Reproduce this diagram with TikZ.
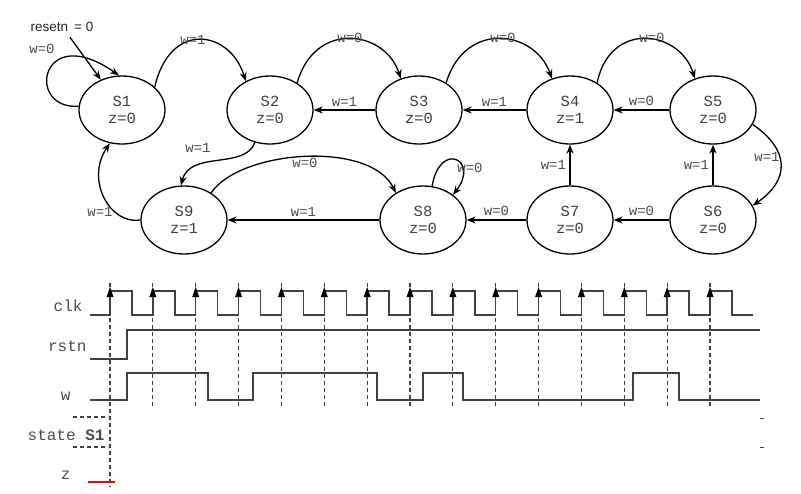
\documentclass[tikz,border=0pt]{standalone}
\usepackage{fontspec}
\setmonofont{Liberation Mono}
\setsansfont{Liberation Sans}
\usetikzlibrary{shapes.geometric,arrows.meta}
\begin{document}
\begin{tikzpicture}[x=1pt,y=-1pt,
  st/.style={ellipse,draw,line width=1.3pt,minimum width=86pt,minimum height=68pt,inner sep=0pt,align=center,font=\ttfamily\fontsize{15.5}{17}\selectfont,text=black!75},
  ed/.style={line width=1.3pt,-{Stealth[length=9pt,width=7pt]}},
  lb/.style={font=\ttfamily\fontsize{14}{15}\selectfont,text=black!70},
  wl/.style={font=\ttfamily\fontsize{16}{17}\selectfont,text=black!70,anchor=east},
  wave/.style={line width=1.4pt,black!75},
  grid/.style={line width=1.2pt,dash pattern=on 4pt off 3pt,black!75}]
\useasboundingbox (0,0) rectangle (801,493);
\node[st] (S1) at (122,110) {S1\\z=0};
\node[st] (S2) at (270,110) {S2\\z=0};
\node[st] (S3) at (419,110) {S3\\z=0};
\node[st] (S4) at (570,110) {S4\\z=1};
\node[st] (S5) at (713,110) {S5\\z=0};
\node[st] (S9) at (184,220) {S9\\z=1};
\node[st] (S8) at (423,220) {S8\\z=0};
\node[st] (S7) at (570,220) {S7\\z=0};
\node[st] (S6) at (713,220) {S6\\z=0};
% reset
\node[font=\sffamily\fontsize{13.5}{14}\selectfont,text=black!85] (rs) at (62,27) {resetn\, = 0};
\draw[ed] (rs.south) ++(8,2) coordinate (r0) (r0) -- (S1.125);
% self loops
\draw[ed] (S1.175) .. controls (25,110) and (40,20) .. (S1.95);
\node[lb] at (42,49) {w=0};
\draw[ed] (S8.75) .. controls (440,140) and (480,160) .. (S8.40);
\node[lb] at (470,168) {w=0};
% arcs top
\draw[ed] (S1.35) .. controls (170,20) and (230,30) .. (S2.130);
\node[lb] at (193,40) {w=1};
\draw[ed] (S2.45) .. controls (315,20) and (385,30) .. (S3.120);
\node[lb] at (350,38) {w=0};
\draw[ed] (S3.45) .. controls (465,20) and (535,30) .. (S4.120);
\node[lb] at (503,38) {w=0};
\draw[ed] (S4.45) .. controls (610,20) and (680,30) .. (S5.120);
\node[lb] at (652,38) {w=0};
% straight top
\draw[ed] (S3) -- node[lb,above,pos=0.5] {w=1} (S2);
\draw[ed] (S4) -- node[lb,above] {w=1} (S3);
\draw[ed] (S5) -- node[lb,above] {w=0} (S4);
% verticals
\draw[ed] (S6) -- node[lb,left] {w=1} (S5);
\draw[ed] (S7) -- node[lb,left] {w=1} (S4);
\draw[ed] (S5.-20) .. controls (790,150) and (790,180) .. (S6.20);
\node[lb] at (767,157) {w=1};
% bottom straight
\draw[ed] (S6) -- node[lb,above] {w=0} (S7);
\draw[ed] (S7) -- node[lb,above] {w=0} (S8);
\draw[ed] (S8) -- node[lb,above] {w=1} (S9);
\draw[ed] (S9.45) .. controls (240,150) and (370,140) .. (S8.135);
\node[lb] at (305,163) {w=0};
\draw[ed] (S2.-115) .. controls (245,170) and (190,150) .. (S9.95);
\node[lb] at (198,148) {w=1};
\draw[ed] (S9.180) .. controls (110,225) and (85,180) .. (S1.-110);
\node[lb] at (100,212) {w=1};
% waveform labels
\node[wl] at (86,306) {clk};
\node[wl] at (90,346) {rstn};
\node[wl] at (74,396) {w};
\node[wl] (stl) at (108,435) {state \textbf{S1}};
\node[wl] at (74,475) {z};
% dashed grid
\foreach \k in {1,...,14} \draw[grid] (110+42.86*\k,283) -- (110+42.86*\k,408);
\draw[grid] (110,283) -- (110,487);
\draw[grid] (73,417) -- (108,417);
\draw[grid] (73,447) -- (108,447);
\draw[red,line width=1.2pt] (88,482) -- (115,482);
\draw[black!70,line width=1pt] (760,418) -- (764,418) (760,447) -- (764,447);
% clock
\draw[wave] (90,315) -- (110,315)
  \foreach \k in {0,...,14} { -- (110+42.86*\k,315) -- (110+42.86*\k,291) -- (132+42.86*\k,291) -- (132+42.86*\k,315) } -- (753,315);
\foreach \k in {0,...,14} \fill[black] (110+42.86*\k,287) -- (106.5+42.86*\k,297) -- (113.5+42.86*\k,297) -- cycle;
% rstn
\draw[wave] (90,359) -- (127,359) -- (127,330) -- (760,330);
% w
\draw[wave] (90,400) -- (127,400) -- (127,373) -- (208,373) -- (208,400) -- (253,400) -- (253,373) -- (377,373) -- (377,400)
 -- (423,400) -- (423,373) -- (463,373) -- (463,400) -- (633,400) -- (633,373) -- (679,373) -- (679,400) -- (760,400);
\end{tikzpicture}
\end{document}
